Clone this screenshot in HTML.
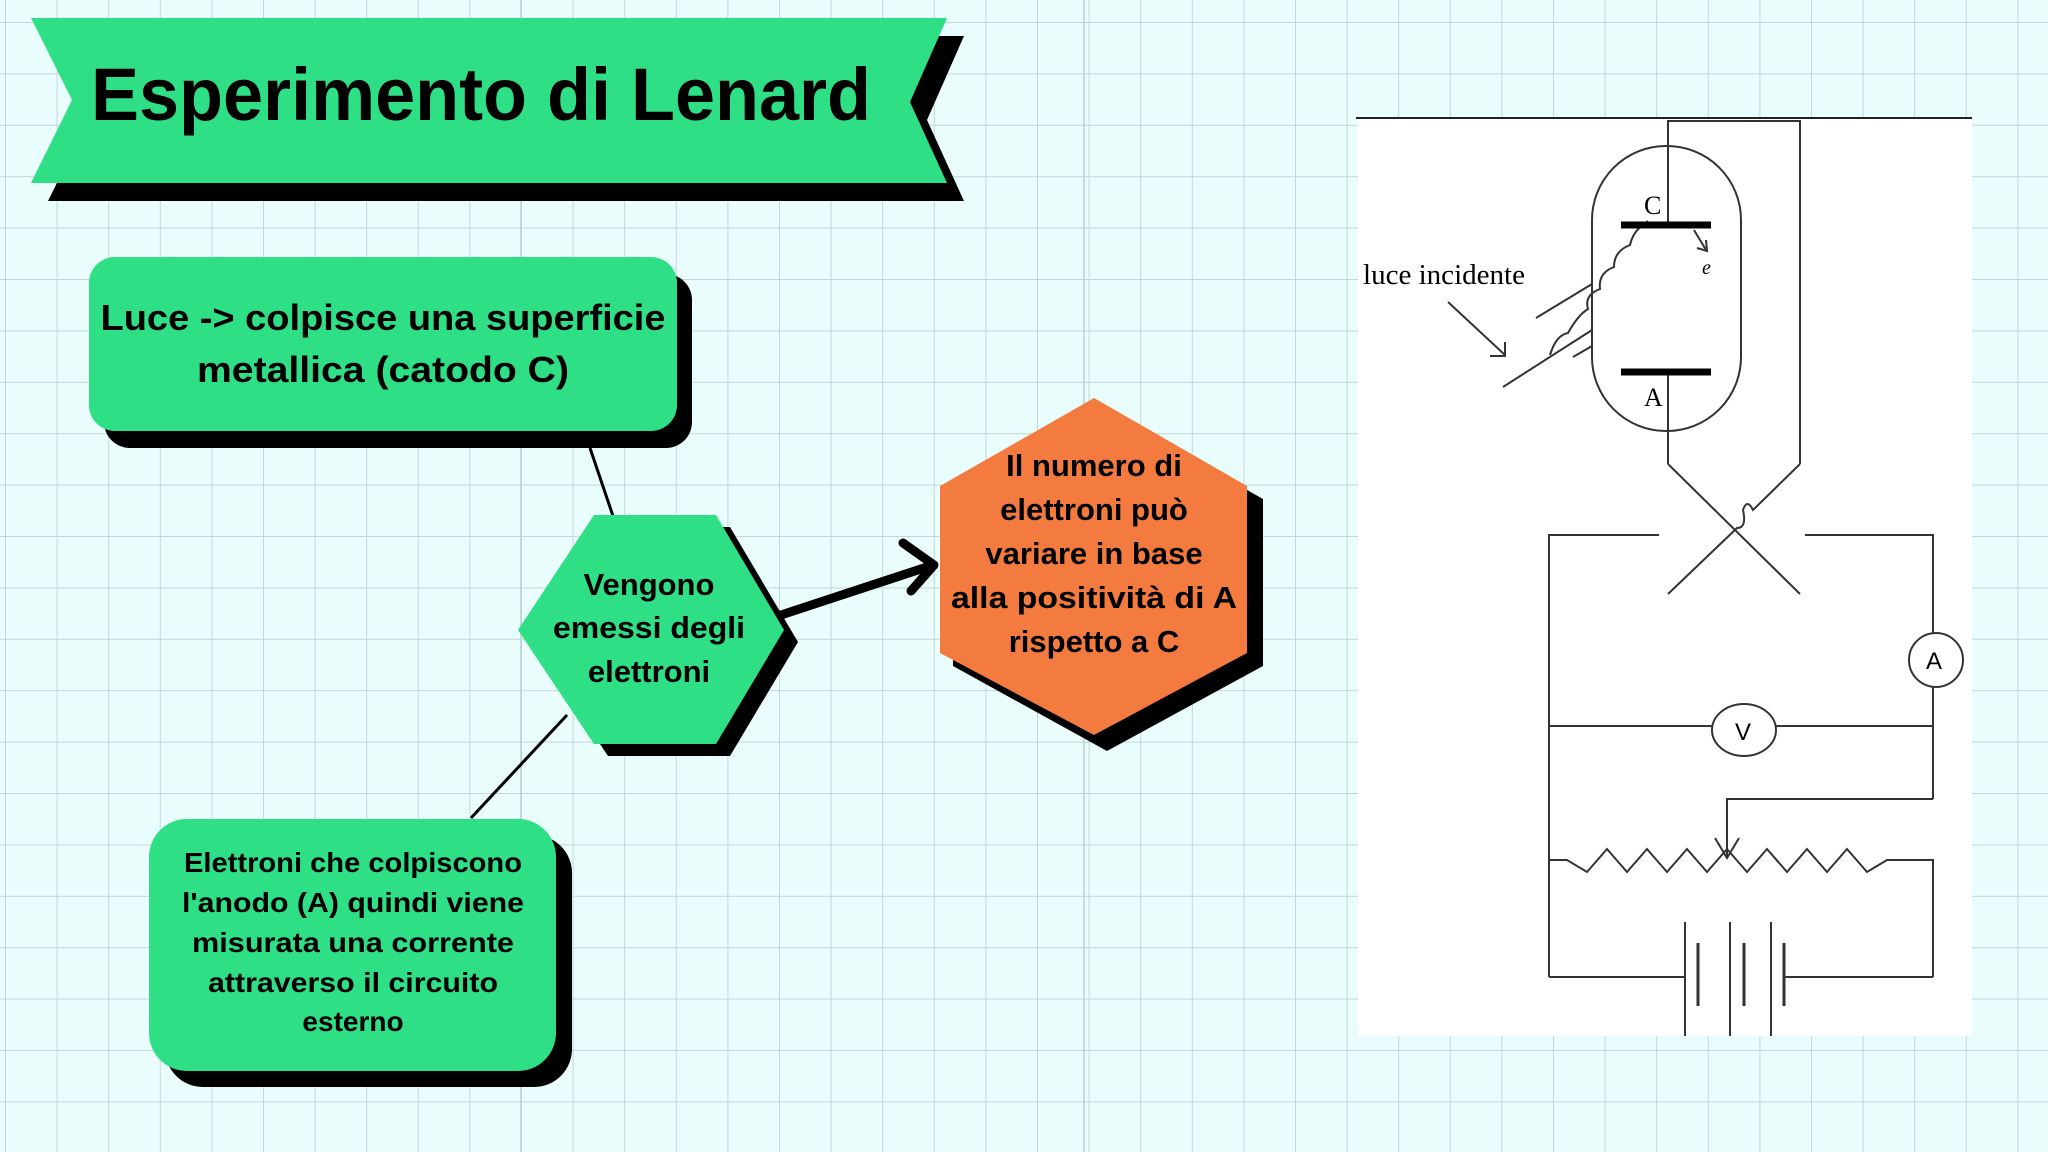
<!DOCTYPE html>
<html><head><meta charset="utf-8"><style>
html,body{margin:0;padding:0;background:#e9fdfd}
svg{display:block}
text{font-family:"Liberation Sans",sans-serif;font-weight:bold;fill:#000}
</style></head><body>
<svg width="2048" height="1152" viewBox="0 0 2048 1152" xmlns="http://www.w3.org/2000/svg">
<defs>
<pattern id="g" x="5" y="22" width="51.6" height="51.4" patternUnits="userSpaceOnUse">
<path d="M0 0V51.4M0 0H51.6" stroke="#c3d6d9" stroke-width="2" fill="none"/>
</pattern>
</defs>
<rect width="2048" height="1152" fill="#e9fdfd"/>
<rect width="2048" height="1152" fill="url(#g)"/>
<line x1="521" y1="0" x2="521" y2="1152" stroke="#bccfd2" stroke-width="1.5"/>
<line x1="1084" y1="0" x2="1084" y2="1152" stroke="#bccfd2" stroke-width="1.5"/>

<!-- banner -->
<polygon points="48,36 964,36 927,120 964,201 48,201 89,118" fill="#000"/>
<polygon points="31,18 947,18 910,102 947,183 31,183 72,100" fill="#2fdf85"/>
<text x="91" y="120" font-size="74" textLength="780" lengthAdjust="spacingAndGlyphs">Esperimento di Lenard</text>

<!-- box 1 -->
<rect x="104" y="274" width="588" height="174" rx="26" fill="#000"/>
<rect x="89" y="257" width="588" height="174" rx="26" fill="#2fdf85"/>
<text x="383" y="330" font-size="36" text-anchor="middle" textLength="565" lengthAdjust="spacingAndGlyphs">Luce -&gt; colpisce una superficie</text>
<text x="383" y="382" font-size="36" text-anchor="middle" textLength="372" lengthAdjust="spacingAndGlyphs">metallica (catodo C)</text>

<!-- connectors -->
<line x1="590" y1="448" x2="613" y2="516" stroke="#000" stroke-width="3"/>
<line x1="567" y1="715" x2="471" y2="818" stroke="#000" stroke-width="3"/>
<line x1="781" y1="615" x2="930" y2="566" stroke="#000" stroke-width="9" stroke-linecap="round"/>
<polyline points="903,543 934,565 911,591" fill="none" stroke="#000" stroke-width="9" stroke-linecap="round" stroke-linejoin="round"/>

<!-- green hexagon -->
<polygon points="532,642 608,527 730,527 798,642 730,756 608,756" fill="#000"/>
<polygon points="518,630 594,515 716,515 784,630 716,744 594,744" fill="#2fdf85"/>
<text x="649" y="595" font-size="31" text-anchor="middle">Vengono</text>
<text x="649" y="638" font-size="31" text-anchor="middle" textLength="192" lengthAdjust="spacingAndGlyphs">emessi degli</text>
<text x="649" y="682" font-size="31" text-anchor="middle">elettroni</text>

<!-- orange hexagon -->
<polygon points="1107,411 1263,499 1263,666 1107,751 953,666 953,499" fill="#000"/>
<polygon points="1094,398 1247,486 1247,653 1094,735 940,653 940,486" fill="#f47b3f"/>
<text x="1094" y="476" font-size="31" text-anchor="middle">Il numero di</text>
<text x="1094" y="520" font-size="31" text-anchor="middle">elettroni può</text>
<text x="1094" y="564" font-size="31" text-anchor="middle">variare in base</text>
<text x="1094" y="608" font-size="31" text-anchor="middle" textLength="286" lengthAdjust="spacingAndGlyphs">alla positività di A</text>
<text x="1094" y="652" font-size="31" text-anchor="middle">rispetto a C</text>

<!-- box 3 -->
<rect x="165" y="835" width="407" height="252" rx="38" fill="#000"/>
<rect x="149" y="819" width="407" height="252" rx="38" fill="#2fdf85"/>
<text x="353" y="872" font-size="28" text-anchor="middle" textLength="338" lengthAdjust="spacingAndGlyphs">Elettroni che colpiscono</text>
<text x="353" y="912" font-size="28" text-anchor="middle" textLength="342" lengthAdjust="spacingAndGlyphs">l'anodo (A)  quindi viene</text>
<text x="353" y="952" font-size="28" text-anchor="middle" textLength="322" lengthAdjust="spacingAndGlyphs">misurata una corrente</text>
<text x="353" y="992" font-size="28" text-anchor="middle" textLength="290" lengthAdjust="spacingAndGlyphs">attraverso il circuito</text>
<text x="353" y="1031" font-size="28" text-anchor="middle">esterno</text>

<!-- circuit -->
<rect x="1358" y="118" width="614" height="918" fill="#fff"/>
<line x1="1356" y1="118" x2="1972" y2="118" stroke="#222" stroke-width="2"/>
<g fill="none" stroke="#333" stroke-width="2">
<rect x="1592" y="146" width="149" height="285" rx="74"/>
<polyline points="1668,225 1668,121 1800,121 1800,464"/>
<line x1="1668" y1="372" x2="1668" y2="464"/>
<line x1="1668" y1="464" x2="1800" y2="594"/>
<path d="M1800,464 L1753,510 q-6,-12 -10,0 q4,18 -6,18 L1668,594"/>
<polyline points="1549,977 1549,535 1659,535"/>
<polyline points="1805,535 1933,535 1933,633"/>
<line x1="1933" y1="687" x2="1933" y2="799"/>
<circle cx="1936" cy="660" r="27"/>
<line x1="1549" y1="726" x2="1712" y2="726"/>
<line x1="1776" y1="726" x2="1933" y2="726"/>
<ellipse cx="1744" cy="730" rx="32" ry="26"/>
<polyline points="1933,799 1727,799 1727,858"/>
<polyline points="1715,838 1727,858 1739,838"/>
<polyline points="1549,860 1567,860 1587,872 1607,849 1627,872 1647,849 1667,872 1687,849 1707,872 1727,849 1747,872 1767,849 1787,872 1807,849 1827,872 1847,849 1867,872 1887,860 1933,860 1933,977"/>
<polyline points="1549,977 1685,977"/>
<polyline points="1784,977 1933,977"/>
<line x1="1685" y1="922" x2="1685" y2="1036"/>
<line x1="1730" y1="922" x2="1730" y2="1036"/>
<line x1="1771" y1="922" x2="1771" y2="1036"/>
<line x1="1698" y1="943" x2="1698" y2="1006" stroke-width="3"/>
<line x1="1744" y1="943" x2="1744" y2="1006" stroke-width="3"/>
<line x1="1784" y1="943" x2="1784" y2="1006" stroke-width="3"/>
<line x1="1503" y1="387" x2="1592" y2="330"/>
<line x1="1536" y1="318" x2="1592" y2="284"/>
<line x1="1573" y1="357" x2="1592" y2="346"/>
<path d="M1550,355 q6,-20 18,-22 q10,-18 20,-24 q-4,-14 12,-20 q-2,-16 14,-22 q0,-16 16,-22 q2,-10 10,-18 l8,-6"/>
<line x1="1448" y1="302" x2="1505" y2="355"/>
<polyline points="1490,356 1505,356 1505,342"/>
<line x1="1694" y1="230" x2="1706" y2="250"/>
<polyline points="1697,248 1707,251 1706,240"/>
</g>
<line x1="1621" y1="225" x2="1711" y2="225" stroke="#000" stroke-width="7"/>
<line x1="1621" y1="372" x2="1711" y2="372" stroke="#000" stroke-width="7"/>
<text x="1644" y="214" font-size="26" style="font-family:'Liberation Serif',serif;font-weight:normal">C</text>
<text x="1644" y="406" font-size="26" style="font-family:'Liberation Serif',serif;font-weight:normal">A</text>
<text x="1702" y="274" font-size="20" font-style="italic" style="font-family:'Liberation Serif',serif;font-weight:normal">e</text>
<text x="1363" y="284" font-size="28" textLength="162" lengthAdjust="spacingAndGlyphs" style="font-family:'Liberation Serif',serif;font-weight:normal">luce incidente</text>
<text x="1926" y="669" font-size="24" style="font-family:'Liberation Sans',sans-serif;font-weight:normal">A</text>
<text x="1735" y="740" font-size="24" style="font-family:'Liberation Sans',sans-serif;font-weight:normal">V</text>
</svg>
</body></html>
